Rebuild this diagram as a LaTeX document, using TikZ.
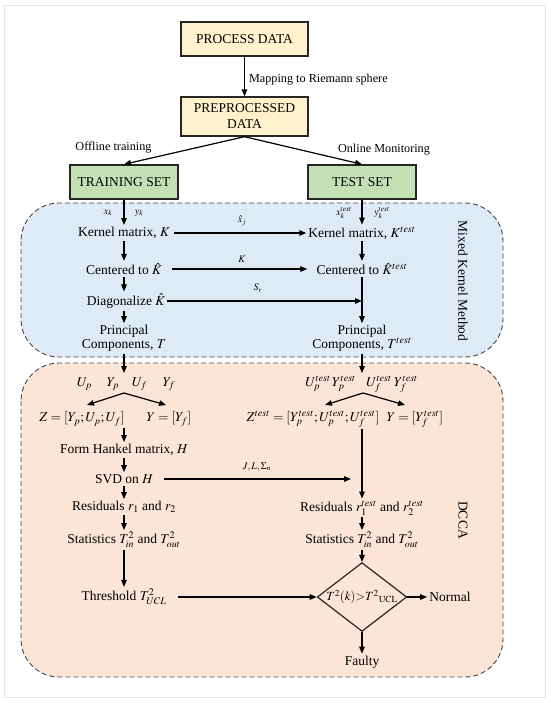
\documentclass[tikz,border=0pt]{standalone}
\usepackage{mathptmx}
\usepackage{fontspec}
\setmainfont{Liberation Serif}
\usetikzlibrary{arrows.meta,shapes.geometric,calc}
\definecolor{boxy}{HTML}{FFF2CC}
\definecolor{boxg}{HTML}{C5E0B4}
\definecolor{regb}{HTML}{DEEBF7}
\definecolor{rego}{HTML}{FBE5D6}
\definecolor{edgec}{HTML}{262626}
\begin{document}
\begin{tikzpicture}[x=1pt,y=-1pt,
  arr/.style={-{Triangle[length=7pt,width=5.5pt]}, line width=1.2pt, draw=black},
  box/.style={draw=edgec, line width=1.4pt, align=center, inner sep=0pt, font=\fontsize{13.5}{16}\selectfont},
  txt/.style={font=\fontsize{13.5}{14}\selectfont, inner sep=2pt, align=center},
  lab/.style={font=\fontsize{12.2}{14}\selectfont, inner sep=1pt},
  mlab/.style={font=\fontsize{10}{12}\selectfont, inner sep=1pt},
  region/.style={draw=edgec!85, dash pattern=on 5pt off 3pt, line width=0.9pt, rounded corners=38pt}]
\useasboundingbox (0,0) rectangle (550,703);
\fill[white] (0,0) rectangle (550,703);
\draw[gray!20, line width=0.8pt] (4,5) rectangle (545,697);
\filldraw[region, fill=regb] (21,203) rectangle (503,357);
\filldraw[region, fill=rego] (21,363) rectangle (503,677);

% top boxes
\node[box, fill=boxy, minimum width=127pt, minimum height=34pt] (proc) at (244.5,39) {PROCESS DATA};
\node[box, fill=boxy, minimum width=127pt, minimum height=39pt] (prep) at (244.5,116.5) {PREPROCESSED\\DATA};
\node[box, fill=boxg, minimum width=108pt, minimum height=34pt] (train) at (124,182) {TRAINING SET};
\node[box, fill=boxg, minimum width=108pt, minimum height=34pt] (test) at (362,182) {TEST SET};
\draw[arr] (proc) -- node[lab, anchor=west, xshift=3pt, yshift=-3pt] (maplab) {Mapping to Riemann sphere} (prep);
\draw[arr] (prep.south) -- (train.north);
\draw[arr] (prep.south) -- (test.north);
\node[lab] (off) at (113.5,148) {Offline training};
\node[lab] (on) at (384,149.5) {Online Monitoring};

% mixed kernel method
\node[txt] (ker1) at (124,233) {Kernel matrix, $K$};
\node[txt] (cen1) at (124,269) {Centered to $\hat{K}$};
\node[txt] (dia1) at (126,301) {Diagonalize $\hat{K}$};
\node[txt] (pc1) at (124,338.5) {Principal\\Components, $T$};
\node[txt] (ker2) at (362,233) {Kernel matrix, $K^{test}$};
\node[txt] (cen2) at (362,269) {Centered to $\hat{K}^{test}$};
\node[txt] (pc2) at (362,338.5) {Principal\\Components, $T^{test}$};
\node[mlab] (xk) at (108,213) {$x_k$};
\node[mlab] (yk) at (139,213) {$y_k$};
\node[mlab] (xk2) at (344,213) {$x_k^{test}$};
\node[mlab] (yk2) at (382,213) {$y_k^{test}$};
\node[mlab] (xj) at (242,221) {$\hat{x}_j$};
\node[mlab] (kl) at (242,259) {$K$};
\node[mlab] (sr) at (258,288) {$S_r$};
\draw[arr] (train.south) -- (ker1.north);
\draw[arr] (test.south) -- (ker2.north);
\draw[arr] (ker1) -- (cen1);
\draw[arr] (cen1.south) -- (cen1.south |- dia1.north);
\draw[arr] (dia1.south -| pc1.north) -- (pc1.north);
\draw[arr] (ker2) -- (cen2);
\draw[arr] (cen2.south) -- (pc2.north);
\draw[arr, shorten <=2pt] (ker1.east) -- (ker2.west);
\draw[arr, shorten <=8pt, shorten >=7pt] (cen1.east) -- (cen2.west);
\draw[arr] (dia1.east) -- (dia1.east -| pc2.north);

\node[txt, rotate=-90] (mkm) at (463,281) {Mixed Kernel Method};
\node[txt, rotate=-90] (dcca) at (463,520) {DCCA};

% DCCA left
\coordinate (in1) at (124,373);
\coordinate (br1) at (124,393);
\coordinate (t1a) at (87,405);
\coordinate (t1b) at (166,405);
\node[txt] (up1) at (84.5,384) {$U_p$};
\node[txt] (yp1) at (113,384) {$Y_p$};
\node[txt] (uf1) at (139.5,384) {$U_f$};
\node[txt] (yf1) at (169,384) {$Y_f$};
\draw[arr] (pc1.south) -- (in1);
\draw[arr] (br1) -- (t1a);
\draw[arr] (br1) -- (t1b);
\node[txt] (z1) at (82,419) {$Z=[Y_p;U_p;U_f]$};
\node[txt] (y1) at (169,419) {$Y=[Y_f]$};
\node[txt] (hank) at (124,450) {Form Hankel matrix, $H$};
\node[txt] (svd) at (124,479) {SVD on $H$};
\node[txt] (res1) at (124,507) {Residuals $r_1$ and $r_2$};
\node[txt] (stat1) at (124,540) {Statistics $T^2_{in}$ and $T^2_{out}$};
\node[txt] (thr) at (124,597) {Threshold $T^2_{UCL}$};
\draw[arr] (z1.south -| hank.north) -- (hank.north);
\draw[arr] (hank) -- (svd);
\draw[arr] (svd) -- (res1);
\draw[arr] (res1) -- (stat1);
\draw[arr] (stat1) -- (thr);

% DCCA right
\coordinate (in2) at (362,373);
\coordinate (br2) at (363,393);
\coordinate (t2a) at (325,405);
\coordinate (t2b) at (405,405);
\node[txt] (up2) at (318,384) {$U_p^{test}$};
\node[txt] (yp2) at (344,384) {$Y_p^{test}$};
\node[txt] (uf2) at (379,384) {$U_f^{test}$};
\node[txt] (yf2) at (406,384) {$Y_f^{test}$};
\draw[arr] (pc2.south) -- (in2);
\draw[arr] (br2) -- (t2a);
\draw[arr] (br2) -- (t2b);
\node[txt] (z2) at (313,419) {$Z^{test}=[Y_p^{test};U_p^{test};U_f^{test}]$};
\node[txt] (y2) at (415,419) {$Y=[Y_f^{test}]$};
\node[txt] (res2) at (362,508) {Residuals $r_1^{test}$ and $r_2^{test}$};
\node[txt] (stat2) at (362,540) {Statistics $T^2_{in}$ and $T^2_{out}$};
\node[draw=edgec, line width=1.2pt, diamond, aspect=1.3, inner sep=0pt, minimum width=87pt, minimum height=68pt, font=\fontsize{12.5}{14}\selectfont] (dia) at (362,597) {$T^2(k){>}T^2{}_{\mathrm{UCL}}$};
\node[txt] (normal) at (450,597) {Normal};
\node[txt] (faulty) at (362,662) {Faulty};
\node[mlab] (jls) at (257,467) {$J,L,\Sigma_n$};
\draw[arr] (z2.south -| res2.north) -- (res2.north);
\draw[arr, shorten <=9pt, shorten >=11pt] (svd.east) -- (svd.east -| res2.north);
\draw[arr] (res2) -- (stat2);
\draw[arr] (stat2) -- (dia);
\draw[arr, shorten <=9pt] (thr.east) -- (dia.west);
\draw[arr] (dia.east) -- (normal.west);
\draw[arr] (dia.south) -- (faulty.north);
\end{tikzpicture}
\end{document}
